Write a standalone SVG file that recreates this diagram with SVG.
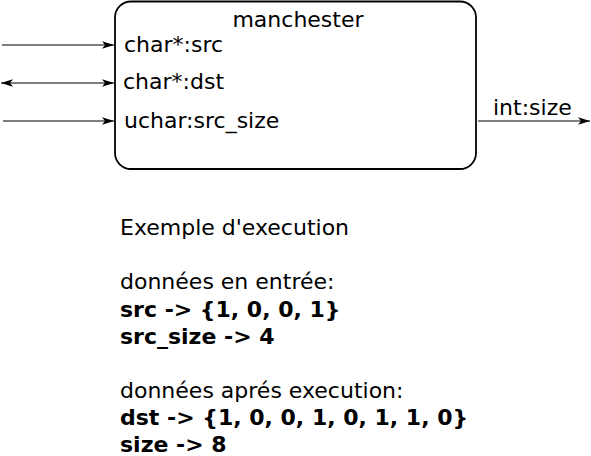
<svg xmlns="http://www.w3.org/2000/svg" width="591" height="456" viewBox="0 0 591 456">
<style>
text{font-family:"DejaVu Sans",sans-serif;font-size:22px;fill:#000}
.b{font-weight:bold}
.c{stroke:#000;stroke-width:1.1;fill:none}
</style>
<defs>
<marker id="ae" markerWidth="14" markerHeight="10" refX="12" refY="5" orient="auto" markerUnits="userSpaceOnUse"><path d="M0,1.3 L12,5 L0,8.7 L3,5 Z" fill="#000"/></marker>
<marker id="as" markerWidth="14" markerHeight="10" refX="0" refY="5" orient="auto" markerUnits="userSpaceOnUse"><path d="M12,1.3 L0,5 L12,8.7 L9,5 Z" fill="#000"/></marker>
</defs>
<g id="manchester">
<rect x="115" y="1.5" width="361" height="167.5" rx="16" fill="#fff" stroke="#000" stroke-width="1.8"/>
<text x="298" y="27" text-anchor="middle">manchester</text>
<text x="124" y="52">char*:src</text>
<text x="123" y="89">char*:dst</text>
<text x="124" y="128">uchar:src_size</text>
</g>
<g id="connectors">
<line class="c" x1="2" y1="45" x2="114" y2="45" marker-end="url(#ae)"/>
<line class="c" x1="1" y1="83" x2="114" y2="83" marker-start="url(#as)" marker-end="url(#ae)"/>
<line class="c" x1="3" y1="121" x2="114" y2="121" marker-end="url(#ae)"/>
<line class="c" x1="478" y1="121" x2="590" y2="121" marker-end="url(#ae)"/>
<text x="493" y="115">int:size</text>
</g>
<g id="example">
<text x="120" y="235">Exemple d'execution</text>
<text x="120" y="289">données en entrée:</text>
<text x="120" y="317" class="b">src -&gt; {1, 0, 0, 1}</text>
<text x="120" y="344" class="b">src_size -&gt; 4</text>
<text x="120" y="398">données aprés execution:</text>
<text x="120" y="425" class="b">dst -&gt; {1, 0, 0, 1, 0, 1, 1, 0}</text>
<text x="120" y="452" class="b">size -&gt; 8</text>
</g>
</svg>
